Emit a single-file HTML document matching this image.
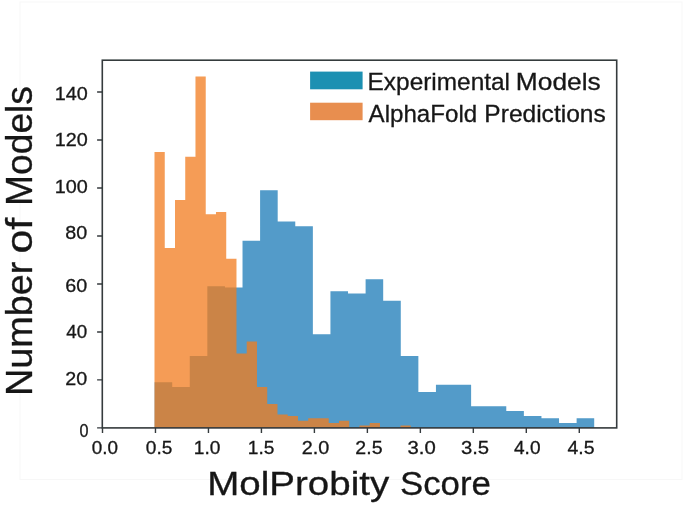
<!DOCTYPE html>
<html><head><meta charset="utf-8"><title>MolProbity Score histogram</title>
<style>
html,body{margin:0;padding:0;background:#fff;}
body{width:685px;height:506px;overflow:hidden;}
svg{display:block;font-family:"Liberation Sans",sans-serif;}
</style></head><body>
<svg width="685" height="506" viewBox="0 0 685 506">
<defs><filter id="sb" x="-5%" y="-5%" width="110%" height="110%"><feGaussianBlur stdDeviation="0.45"/></filter></defs>
<rect x="0" y="0" width="685" height="506" fill="#ffffff"/>
<g filter="url(#sb)">
<rect x="20" y="2" width="662" height="477.6" fill="none" stroke="#f7f7f7" stroke-width="1"/>

<path d="M154.60 427.90 L154.60 382.31 L172.18 382.31 L172.18 387.11 L189.77 387.11 L189.77 355.92 L207.35 355.92 L207.35 286.34 L224.94 286.34 L224.94 287.54 L242.52 287.54 L242.52 240.75 L260.10 240.75 L260.10 190.37 L277.69 190.37 L277.69 221.56 L295.27 221.56 L295.27 226.36 L312.86 226.36 L312.86 334.33 L330.44 334.33 L330.44 291.14 L348.02 291.14 L348.02 293.54 L365.61 293.54 L365.61 279.14 L383.19 279.14 L383.19 300.74 L400.78 300.74 L400.78 355.92 L418.36 355.92 L418.36 391.91 L435.94 391.91 L435.94 384.71 L453.53 384.71 L453.53 384.71 L471.11 384.71 L471.11 406.31 L488.70 406.31 L488.70 406.31 L506.28 406.31 L506.28 411.10 L523.86 411.10 L523.86 415.90 L541.45 415.90 L541.45 418.30 L559.03 418.30 L559.03 423.10 L576.62 423.10 L576.62 418.30 L594.20 418.30 L594.20 427.90 Z" fill="rgb(82,155,201)"/>
<path d="M154.50 427.90 L154.50 151.98 L164.75 151.98 L164.75 247.95 L175.00 247.95 L175.00 199.97 L185.24 199.97 L185.24 156.78 L195.49 156.78 L195.49 76.40 L205.74 76.40 L205.74 214.36 L215.99 214.36 L215.99 211.96 L226.24 211.96 L226.24 258.75 L236.48 258.75 L236.48 353.52 L246.73 353.52 L246.73 341.53 L256.98 341.53 L256.98 387.11 L267.23 387.11 L267.23 403.91 L277.48 403.91 L277.48 414.46 L287.72 414.46 L287.72 415.90 L297.97 415.90 L297.97 420.70 L308.22 420.70 L308.22 418.30 L318.47 418.30 L318.47 418.30 L328.72 418.30 L328.72 423.10 L338.96 423.10 L338.96 420.70 L349.21 420.70 L349.21 427.90 L359.46 427.90 L359.46 425.50 L369.71 425.50 L369.71 423.10 L379.96 423.10 L379.96 427.90 L390.20 427.90 L390.20 427.90 L400.45 427.90 L400.45 425.50 L410.70 425.50 L410.70 427.90 Z" fill="rgba(242,125,30,0.76)"/>
<rect x="102.30" y="60.20" width="514.40" height="367.70" fill="none" stroke="#343a3c" stroke-width="1.6"/>
<path d="M102.50 427.90 v5.2 M155.47 427.90 v5.2 M208.45 427.90 v5.2 M261.43 427.90 v5.2 M314.40 427.90 v5.2 M367.38 427.90 v5.2 M420.35 427.90 v5.2 M473.32 427.90 v5.2 M526.30 427.90 v5.2 M579.28 427.90 v5.2 M102.30 427.90 h-5.2 M102.30 379.91 h-5.2 M102.30 331.93 h-5.2 M102.30 283.94 h-5.2 M102.30 235.96 h-5.2 M102.30 187.97 h-5.2 M102.30 139.98 h-5.2 M102.30 92.00 h-5.2" stroke="#343a3c" stroke-width="1.4" fill="none"/>
<rect x="310.1" y="71.6" width="52.5" height="17.7" fill="rgb(30,144,178)"/>
<rect x="310.1" y="102.7" width="52.5" height="17.5" fill="rgb(232,142,80)"/>
<g fill="#161616" stroke="#161616" stroke-width="0.3">
<text x="91.80" y="453.70" font-size="18.8" textLength="26.21" lengthAdjust="spacingAndGlyphs">0.0</text>
<text x="145.80" y="453.70" font-size="18.8" textLength="26.51" lengthAdjust="spacingAndGlyphs">0.5</text>
<text x="193.88" y="453.70" font-size="18.8" textLength="26.63" lengthAdjust="spacingAndGlyphs">1.0</text>
<text x="247.88" y="453.70" font-size="18.8" textLength="26.63" lengthAdjust="spacingAndGlyphs">1.5</text>
<text x="301.84" y="453.70" font-size="18.8" textLength="27.57" lengthAdjust="spacingAndGlyphs">2.0</text>
<text x="355.36" y="453.70" font-size="18.8" textLength="27.15" lengthAdjust="spacingAndGlyphs">2.5</text>
<text x="407.52" y="453.70" font-size="18.8" textLength="28.20" lengthAdjust="spacingAndGlyphs">3.0</text>
<text x="460.92" y="453.70" font-size="18.8" textLength="28.20" lengthAdjust="spacingAndGlyphs">3.5</text>
<text x="514.00" y="453.70" font-size="18.8" textLength="26.51" lengthAdjust="spacingAndGlyphs">4.0</text>
<text x="567.40" y="453.70" font-size="18.8" textLength="27.11" lengthAdjust="spacingAndGlyphs">4.5</text>
<text x="54.65" y="99.70" font-size="18.8" textLength="33.02" lengthAdjust="spacingAndGlyphs">140</text>
<text x="54.65" y="146.00" font-size="18.8" textLength="33.02" lengthAdjust="spacingAndGlyphs">120</text>
<text x="54.65" y="192.60" font-size="18.8" textLength="33.02" lengthAdjust="spacingAndGlyphs">100</text>
<text x="65.25" y="239.20" font-size="18.8" textLength="21.94" lengthAdjust="spacingAndGlyphs">80</text>
<text x="65.25" y="291.80" font-size="18.8" textLength="21.94" lengthAdjust="spacingAndGlyphs">60</text>
<text x="66.30" y="338.20" font-size="18.8" textLength="20.89" lengthAdjust="spacingAndGlyphs">40</text>
<text x="65.25" y="385.00" font-size="18.8" textLength="21.94" lengthAdjust="spacingAndGlyphs">20</text>
<text x="79.40" y="437.10" font-size="18.8" textLength="8.99" lengthAdjust="spacingAndGlyphs">0</text>
<text y="90.20" font-size="24.3"><tspan x="367.59" textLength="142.41" lengthAdjust="spacingAndGlyphs">Experimental</tspan> <tspan x="515.83" textLength="84.82" lengthAdjust="spacingAndGlyphs">Models</tspan></text>
<text y="122.30" font-size="24.3"><tspan x="368.60" textLength="108.61" lengthAdjust="spacingAndGlyphs">AlphaFold</tspan> <tspan x="484.38" textLength="121.32" lengthAdjust="spacingAndGlyphs">Predictions</tspan></text>
<text y="494.80" font-size="33.8"><tspan x="207.22" textLength="181.99" lengthAdjust="spacingAndGlyphs">MolProbity</tspan> <tspan x="399.97" textLength="90.97" lengthAdjust="spacingAndGlyphs">Score</tspan></text>
<g transform="translate(31.6 392.9) rotate(-90)"><text y="0.00" font-size="37"><tspan x="-3.06" textLength="134.39" lengthAdjust="spacingAndGlyphs">Number</tspan> <tspan x="139.29" textLength="35.80" lengthAdjust="spacingAndGlyphs">of</tspan> <tspan x="186.98" textLength="119.90" lengthAdjust="spacingAndGlyphs">Models</tspan></text></g>
</g>
</g></svg></body></html>
